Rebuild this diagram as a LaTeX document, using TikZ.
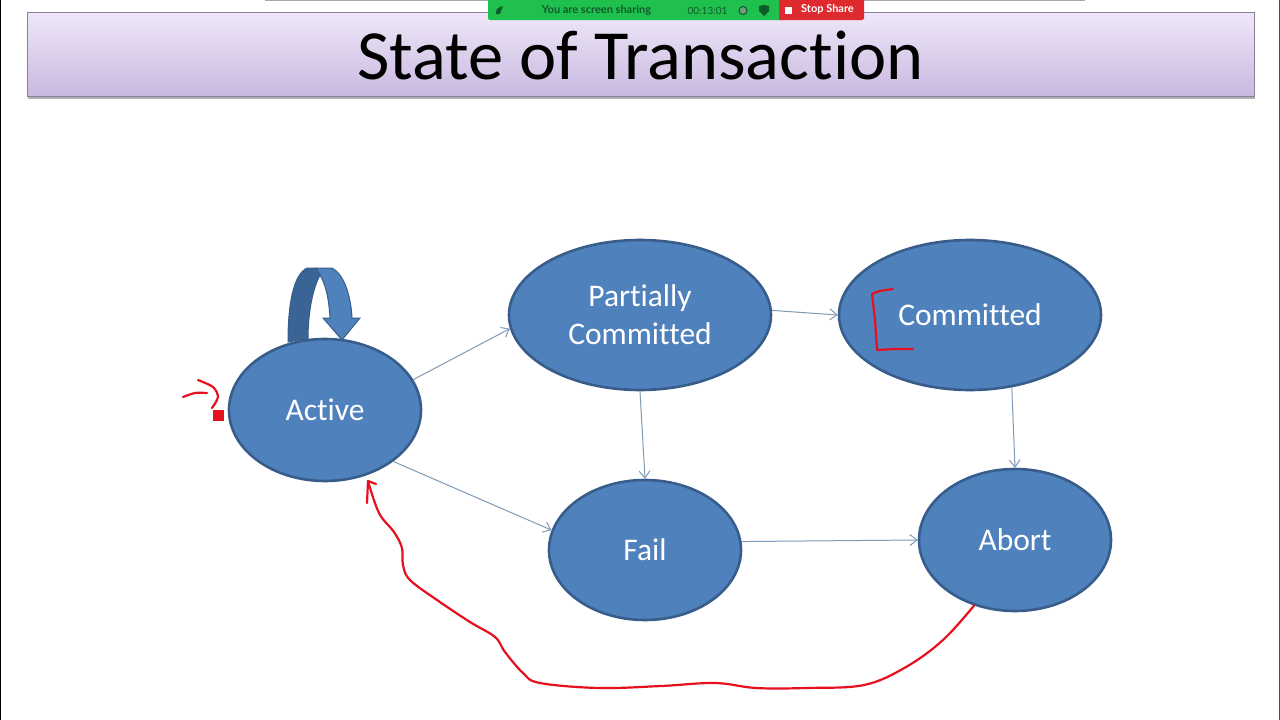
\documentclass[tikz,border=0pt]{standalone}
\usepackage{fontspec}
\setmainfont[Ligatures=NoCommon]{Carlito}
\newfontfamily\barfont{Lato}
\usetikzlibrary{shapes.geometric}
\usetikzlibrary{arrows.meta}

\definecolor{statefill}{HTML}{4F81BD}
\definecolor{stateline}{HTML}{385D8A}
\definecolor{linkline}{HTML}{7F9BB5}
\definecolor{loopdark}{HTML}{3A6496}
\definecolor{penred}{HTML}{E6101E}
\definecolor{bargreen}{HTML}{1FC04E}
\definecolor{bartext}{HTML}{0F5A2A}
\definecolor{barred}{HTML}{DE2A2E}
\definecolor{titletop}{HTML}{EFE7F8}
\definecolor{titlebottom}{HTML}{C9B9E0}
\definecolor{titleline}{HTML}{8A7D9E}

\tikzset{
  state/.style={ellipse, draw=stateline, line width=2.6pt, fill=statefill, inner sep=0pt,
    text=white, font=\fontsize{31.5}{37}\selectfont, align=center},
  link/.style={draw=linkline, line width=1pt, -{Straight Barb[length=7pt,width=11pt]}},
  redpen/.style={draw=penred, line width=2.2pt, line cap=round, line join=round},
}

\begin{document}
\begin{tikzpicture}[x=1pt,y=-1pt]
\useasboundingbox (0,0) rectangle (1280,720);

% page edges
\fill[white] (0,0) rectangle (1280,720);
\draw[black, line width=1pt] (0.5,0) -- (0.5,720);
\draw[black!70, line width=1pt] (1279.5,0) -- (1279.5,720);
\draw[black!35, line width=1.5pt] (265,0.5) -- (1085,0.5);

% title bar
\fill[black!30] (28,96) rectangle (1255,98.5);
\draw[draw=titleline, line width=1pt, top color=titletop, bottom color=titlebottom]
  (27,12) rectangle (1254,96);
\node (title) at (640.5,56) {\fontsize{70.5}{84}\selectfont State of Transaction};

% sharing bar
\fill[bargreen, rounded corners=2pt] (488,-4) rectangle (785,20);
\fill[barred, rounded corners=2pt] (779,-4) rectangle (864,20);
\fill[barred] (779,-4) rectangle (785,20);
\fill[bartext] (496,14) .. controls (495,10) and (498,7) .. (503,6) .. controls (502,9) and (501,10) .. (500,14) -- cycle;
\node[text=bartext, font=\barfont\bfseries\fontsize{11}{13}\selectfont] (sharing) at (596.5,10) {You are screen sharing};
\node[text=bartext, font=\barfont\fontsize{10}{12}\selectfont] (clock) at (707.5,10.5) {00:13:01};
\filldraw[draw=bartext, fill=bargreen!50!black!60, line width=1pt] (743,10.5) circle (4pt);
\fill[bartext] (759,6) -- (764,5) -- (769,6) -- (769,11) -- (764,16) -- (759,11) -- cycle;
\fill[white] (785,6.5) rectangle (792,13.5);
\node[text=white, font=\barfont\bfseries\fontsize{11}{13}\selectfont] (stop) at (827.5,9.5) {Stop Share};

% states
\node[state, minimum width=192pt, minimum height=142pt] (active) at (325,410) {Active};
\node[state, minimum width=262pt, minimum height=150pt] (partial) at (640,315) {Partially\\[1pt]Committed};
\node[state, minimum width=262pt, minimum height=150pt] (committed) at (970,315) {Committed};
\node[state, minimum width=192pt, minimum height=140pt] (fail) at (645,550) {Fail};
\node[state, minimum width=192pt, minimum height=142pt] (abort) at (1015,540) {Abort};

% links between states
\draw[link] (active.19) -- (partial.186.7);
\draw[link] (active.-37.8) -- (fail.168.6);
\draw[link] (partial.2) -- (committed.180);
\draw[link] (partial.270) -- (fail.90);
\draw[link] (committed.-60.7) -- (abort.90);
\draw[link] (fail.5) -- (abort.180.6);

% loop over active
\filldraw[draw=stateline, line width=1pt, fill=statefill]
  (316,268) -- (332,268)
  .. controls (344,274) and (351,296) .. (352,318) -- (360,318) -- (342,340) -- (323,318) -- (330,318)
  .. controls (329,300) and (326,285) .. (320,275) -- cycle;
\filldraw[draw=stateline, line width=1pt, fill=loopdark]
  (288,342) .. controls (288,305) and (293,275) .. (307,268) -- (316,268) -- (320,275)
  .. controls (312,290) and (308,315) .. (308,339) .. controls (301,339) and (294,341) .. (288,342) -- cycle;

% pen marks
\coordinate (redtip) at (368,481);
\draw[redpen] plot[smooth, tension=0.6] coordinates {(abort.238) (943,640) (906,667) (864,685) (806,688) (756,688)
  (715,683) (661,686) (599,688) (540,683) (523,673) (505,652) (495,637) (470,622) (437,600) (410,580) (403,565) (402,548)
  (394,532) (379,513) (redtip)};
\draw[redpen] (367,503) -- (redtip) -- (376,484);
\draw[redpen] plot[smooth, tension=0.5] coordinates {(893,289) (880,291) (872,294)};
\draw[redpen] (872,294) -- (875,320) -- (877,350) -- (895,349) -- (913,349);
\draw[redpen] plot[smooth, tension=0.5] coordinates {(183,397) (195,393) (207,393)};
\draw[redpen] plot[smooth, tension=0.5] coordinates {(198,380) (213,387) (218,397) (212,408)};
\fill[penred] (213,410) rectangle (224,421);

\end{tikzpicture}
\end{document}
